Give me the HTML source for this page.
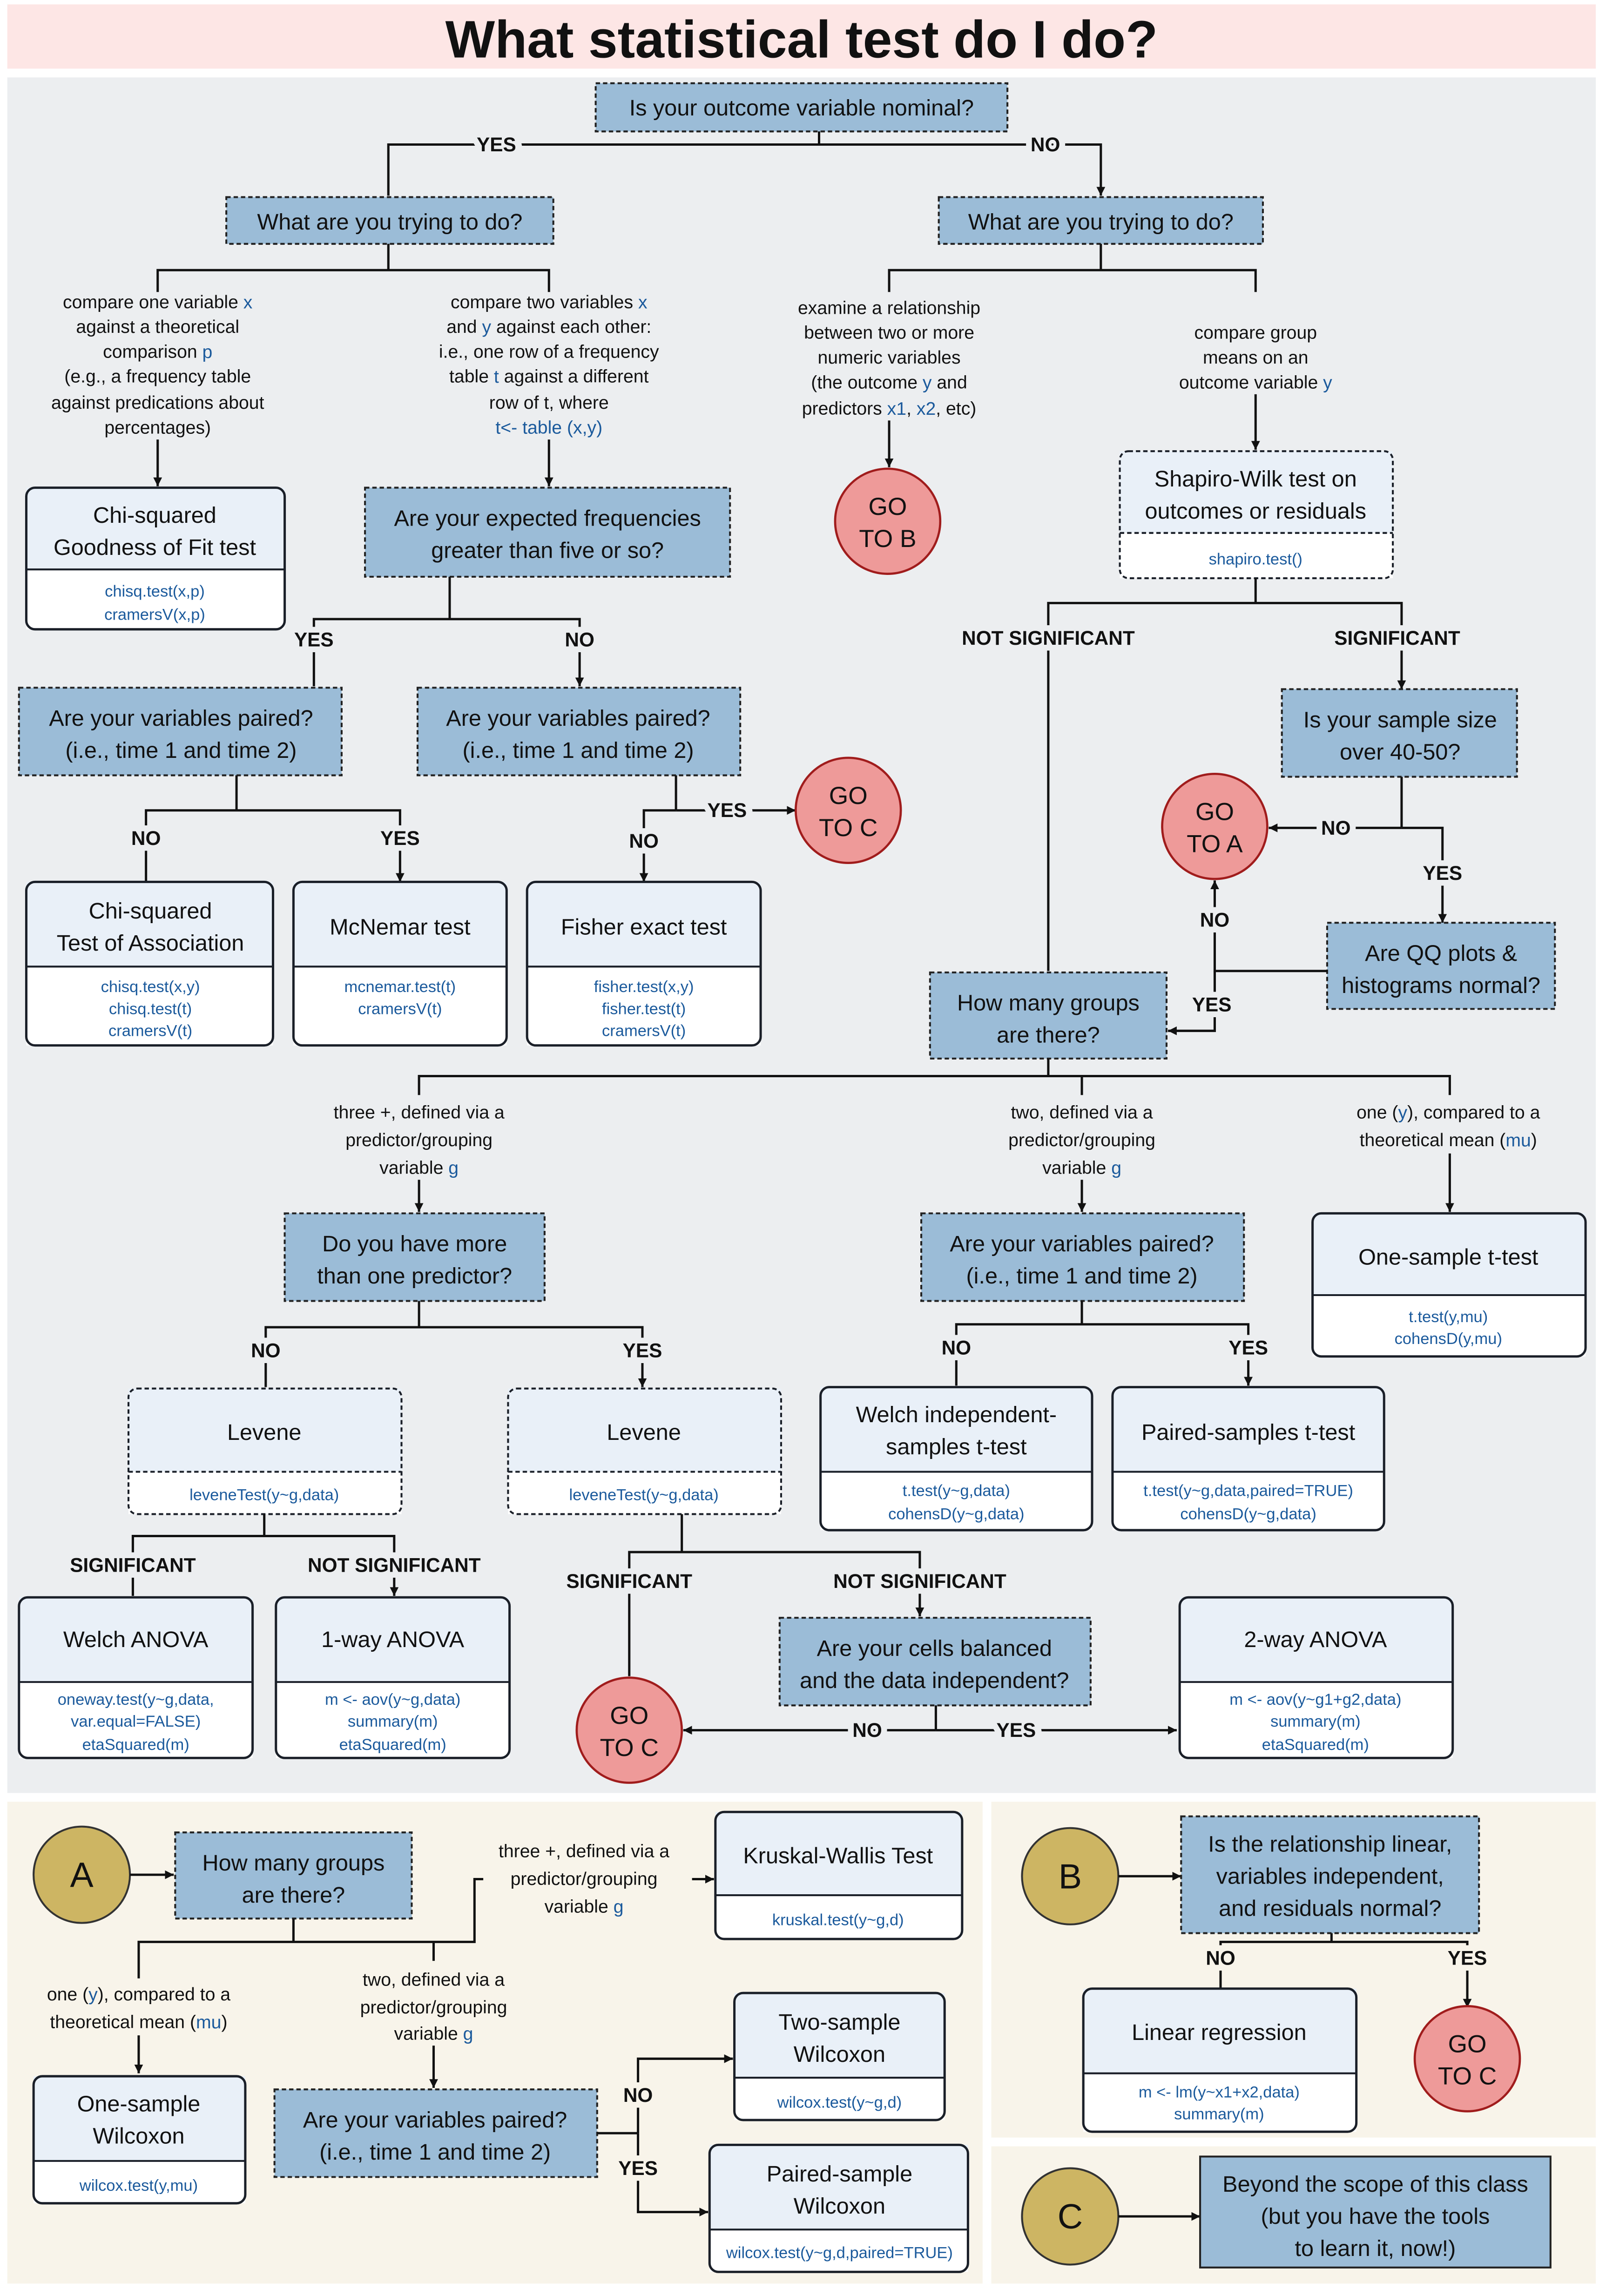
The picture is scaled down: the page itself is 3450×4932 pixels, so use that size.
<!DOCTYPE html>
<html><head><meta charset="utf-8"><style>
html,body{margin:0;padding:0;background:#fff}
svg{display:block}
text{font-family:"Liberation Sans",sans-serif;fill:#111}
.q{font-size:15.5px;text-anchor:middle;dominant-baseline:central}
.s{font-size:12.5px;text-anchor:middle;dominant-baseline:central}
.c{font-size:11px;text-anchor:middle;dominant-baseline:central;fill:#1b5a9c}
.b{fill:#1b5a9c}
.l{font-size:13.5px;font-weight:bold;text-anchor:middle;dominant-baseline:central;stroke:#eceef0;stroke-width:8;paint-order:stroke}
.l2{font-size:13.5px;font-weight:bold;text-anchor:middle;dominant-baseline:central;stroke:#f8f4ea;stroke-width:8;paint-order:stroke}
.ci{font-size:17px;text-anchor:middle;dominant-baseline:central}
.d{fill:#9bbcd7;stroke:#222;stroke-width:1.3;stroke-dasharray:3 2}
.rt{fill:#e9f0f8;stroke:none}
.ro{fill:none;stroke:#1a1f28;stroke-width:1.6}
.rod{fill:none;stroke:#1a1f28;stroke-width:1.3;stroke-dasharray:3 2}
.w{stroke:#1a1f28;stroke-width:1.3}
.ln{fill:none;stroke:#111;stroke-width:1.6}
.a{fill:none;stroke:#111;stroke-width:1.6;marker-end:url(#ar)}
.p{fill:#ee9a99;stroke:#a01c1c;stroke-width:1.5}
.g{fill:#cdb563;stroke:#333;stroke-width:1.3}
</style></head><body>
<svg width="3450" height="4932" viewBox="0 0 1100 1572.5" xmlns="http://www.w3.org/2000/svg">
<defs><marker id="ar" viewBox="0 0 10 10" refX="10" refY="5" markerWidth="6" markerHeight="6" markerUnits="userSpaceOnUse" orient="auto"><path d="M0,0L10,5L0,10z" fill="#111"/></marker></defs>
<rect x="0" y="0" width="1100" height="1572.5" fill="#fff"/>
<rect x="5" y="3" width="1088" height="44" fill="#fde6e5"/>
<text x="549" y="27" style="font-size:36px;font-weight:bold;text-anchor:middle;dominant-baseline:central">What statistical test do I do?</text>
<rect x="5" y="53" width="1088" height="1175" fill="#eceef0"/>
<rect x="5" y="1234" width="668" height="330" fill="#f8f4ea"/>
<rect x="679" y="1234" width="414" height="230" fill="#f8f4ea"/>
<rect x="679" y="1470" width="414" height="94" fill="#f8f4ea"/>

<rect class="d" x="408" y="57" width="282" height="33"/>
<text class="q" x="549" y="74">Is your outcome variable nominal?</text>
<path class="ln" d="M561,90V99"/>
<path class="a" d="M266,134V99H754V134"/>
<text class="l" x="340" y="99">YES</text><text class="l" x="716" y="99">NO</text>

<rect class="d" x="155" y="135" width="224" height="32"/><text class="q" x="267" y="152">What are you trying to do?</text>
<rect class="d" x="643" y="135" width="222" height="32"/><text class="q" x="754" y="152">What are you trying to do?</text>
<path class="ln" d="M266,167V185M108,200V185H376V200M754,167V185M609,200V185H860V200"/>
<text class="s" x="108" y="207">compare one variable <tspan class="b">x</tspan></text>
<text class="s" x="108" y="224">against a theoretical</text>
<text class="s" x="108" y="241">comparison <tspan class="b">p</tspan></text>
<text class="s" x="108" y="258">(e.g., a frequency table</text>
<text class="s" x="108" y="276">against predications about</text>
<text class="s" x="108" y="293">percentages)</text>
<path class="a" d="M108,301V333"/>
<text class="s" x="376" y="207">compare two variables <tspan class="b">x</tspan></text>
<text class="s" x="376" y="224">and <tspan class="b">y</tspan> against each other:</text>
<text class="s" x="376" y="241">i.e., one row of a frequency</text>
<text class="s" x="376" y="258">table <tspan class="b">t</tspan> against a different</text>
<text class="s" x="376" y="276">row of t, where</text>
<text class="s b" x="376" y="293">t&lt;- table (x,y)</text>
<path class="a" d="M376,301V333"/>
<text class="s" x="609" y="211">examine a relationship</text>
<text class="s" x="609" y="228">between two or more</text>
<text class="s" x="609" y="245">numeric variables</text>
<text class="s" x="609" y="262">(the outcome <tspan class="b">y</tspan> and</text>
<text class="s" x="609" y="280">predictors <tspan class="b">x1</tspan>, <tspan class="b">x2</tspan>, etc)</text>
<path class="a" d="M609,288V320"/>
<circle class="p" cx="608" cy="357" r="36"/><text class="ci" x="608" y="347">GO</text><text class="ci" x="608" y="369">TO B</text>
<text class="s" x="860" y="228">compare group</text>
<text class="s" x="860" y="245">means on an</text>
<text class="s" x="860" y="262">outcome variable <tspan class="b">y</tspan></text>
<path class="a" d="M860,270V308"/>

<rect class="rt" x="18" y="334" width="177" height="56"/><rect x="18" y="390" width="177" height="41" fill="#fff"/>
<rect class="ro" x="18" y="334" width="177" height="97" rx="6"/><path class="w" d="M18,390H195"/>
<text class="q" x="106" y="353">Chi-squared</text><text class="q" x="106" y="375">Goodness of Fit test</text>
<text class="c" x="106" y="405">chisq.test(x,p)</text><text class="c" x="106" y="421">cramersV(x,p)</text>

<rect class="d" x="250" y="334" width="250" height="61"/>
<text class="q" x="375" y="355">Are your expected frequencies</text><text class="q" x="375" y="377">greater than five or so?</text>
<path class="ln" d="M308,395V424"/><path class="a" d="M215,470V424H397V470"/>
<text class="l" x="215" y="438">YES</text><text class="l" x="397" y="438">NO</text>

<rect class="rt" x="767" y="309" width="187" height="56"/><rect x="767" y="365" width="187" height="31" fill="#fff"/>
<rect class="rod" x="767" y="309" width="187" height="87" rx="6"/><path class="w" d="M767,365H954" stroke-dasharray="3 2"/>
<text class="q" x="860" y="328">Shapiro-Wilk test on</text><text class="q" x="860" y="350">outcomes or residuals</text>
<text class="c" x="860" y="383">shapiro.test()</text>
<path class="ln" d="M860,396V413"/><path class="a" d="M718,665V413H960V472"/>
<text class="l" x="718" y="437">NOT SIGNIFICANT</text><text class="l" x="957" y="437">SIGNIFICANT</text>

<rect class="d" x="878" y="472" width="161" height="60"/>
<text class="q" x="959" y="493">Is your sample size</text><text class="q" x="959" y="515">over 40-50?</text>
<path class="ln" d="M960,532V567"/><path class="a" d="M960,567H869"/><path class="a" d="M960,567H988V632"/>
<text class="l" x="915" y="567">NO</text><text class="l" x="988" y="598">YES</text>
<circle class="p" cx="832" cy="566" r="36"/><text class="ci" x="832" y="556">GO</text><text class="ci" x="832" y="578">TO A</text>
<rect class="d" x="909" y="632" width="156" height="59"/>
<text class="q" x="987" y="653">Are QQ plots &amp;</text><text class="q" x="987" y="675">histograms normal?</text>
<path class="a" d="M909,665H832V603"/><path class="a" d="M832,665V706H800"/>
<text class="l" x="832" y="630">NO</text><text class="l" x="830" y="688">YES</text>

<rect class="d" x="637" y="666" width="162" height="59"/>
<text class="q" x="718" y="687">How many groups</text><text class="q" x="718" y="709">are there?</text>

<rect class="d" x="13" y="471" width="221" height="60"/>
<text class="q" x="124" y="492">Are your variables paired?</text><text class="q" x="124" y="514">(i.e., time 1 and time 2)</text>
<path class="ln" d="M162,531V555"/><path class="a" d="M100,604V555H274V604"/>
<text class="l" x="100" y="574">NO</text><text class="l" x="274" y="574">YES</text>
<rect class="d" x="286" y="471" width="221" height="60"/>
<text class="q" x="396" y="492">Are your variables paired?</text><text class="q" x="396" y="514">(i.e., time 1 and time 2)</text>
<path class="ln" d="M463,531V555"/><path class="a" d="M463,555H545"/><path class="a" d="M463,555H441V604"/>
<text class="l" x="498" y="555">YES</text><text class="l" x="441" y="576">NO</text>
<circle class="p" cx="581" cy="555" r="36"/><text class="ci" x="581" y="545">GO</text><text class="ci" x="581" y="567">TO C</text>

<rect class="rt" x="18" y="604" width="169" height="58"/><rect x="18" y="662" width="169" height="54" fill="#fff"/>
<rect class="ro" x="18" y="604" width="169" height="112" rx="6"/><path class="w" d="M18,662H187"/>
<text class="q" x="103" y="624">Chi-squared</text><text class="q" x="103" y="646">Test of Association</text>
<text class="c" x="103" y="676">chisq.test(x,y)</text><text class="c" x="103" y="691">chisq.test(t)</text><text class="c" x="103" y="706">cramersV(t)</text>

<rect class="rt" x="201" y="604" width="146" height="58"/><rect x="201" y="662" width="146" height="54" fill="#fff"/>
<rect class="ro" x="201" y="604" width="146" height="112" rx="6"/><path class="w" d="M201,662H347"/>
<text class="q" x="274" y="635">McNemar test</text>
<text class="c" x="274" y="676">mcnemar.test(t)</text><text class="c" x="274" y="691">cramersV(t)</text>

<rect class="rt" x="361" y="604" width="160" height="58"/><rect x="361" y="662" width="160" height="54" fill="#fff"/>
<rect class="ro" x="361" y="604" width="160" height="112" rx="6"/><path class="w" d="M361,662H521"/>
<text class="q" x="441" y="635">Fisher exact test</text>
<text class="c" x="441" y="676">fisher.test(x,y)</text><text class="c" x="441" y="691">fisher.test(t)</text><text class="c" x="441" y="706">cramersV(t)</text>

<path class="ln" d="M718,725V737M287,750V737H993V750M741,737V750"/>
<text class="s" x="287" y="762">three +, defined via a</text><text class="s" x="287" y="781">predictor/grouping</text><text class="s" x="287" y="800">variable <tspan class="b">g</tspan></text>
<path class="a" d="M287,808V830"/>
<text class="s" x="741" y="762">two, defined via a</text><text class="s" x="741" y="781">predictor/grouping</text><text class="s" x="741" y="800">variable <tspan class="b">g</tspan></text>
<path class="a" d="M741,808V830"/>
<text class="s" x="992" y="762">one (<tspan class="b">y</tspan>), compared to a</text><text class="s" x="992" y="781">theoretical mean (<tspan class="b">mu</tspan>)</text>
<path class="a" d="M993,790V830"/>

<rect class="d" x="195" y="831" width="178" height="60"/>
<text class="q" x="284" y="852">Do you have more</text><text class="q" x="284" y="874">than one predictor?</text>
<path class="ln" d="M287,891V909"/><path class="a" d="M182,950V909H440V950"/>
<text class="l" x="182" y="925">NO</text><text class="l" x="440" y="925">YES</text>

<rect class="d" x="631" y="831" width="221" height="60"/>
<text class="q" x="741" y="852">Are your variables paired?</text><text class="q" x="741" y="874">(i.e., time 1 and time 2)</text>
<path class="ln" d="M741,891V907"/><path class="a" d="M655,949V907H855V949"/>
<text class="l" x="655" y="923">NO</text><text class="l" x="855" y="923">YES</text>

<rect class="rt" x="899" y="831" width="187" height="56"/><rect x="899" y="887" width="187" height="42" fill="#fff"/>
<rect class="ro" x="899" y="831" width="187" height="98" rx="6"/><path class="w" d="M899,887H1086"/>
<text class="q" x="992" y="861">One-sample t-test</text>
<text class="c" x="992" y="902">t.test(y,mu)</text><text class="c" x="992" y="917">cohensD(y,mu)</text>

<rect class="rt" x="88" y="951" width="187" height="57"/><rect x="88" y="1008" width="187" height="29" fill="#fff"/>
<rect class="rod" x="88" y="951" width="187" height="86" rx="6"/><path class="w" d="M88,1008H275" stroke-dasharray="3 2"/>
<text class="q" x="181" y="981">Levene</text><text class="c" x="181" y="1024">leveneTest(y~g,data)</text>
<rect class="rt" x="348" y="951" width="187" height="57"/><rect x="348" y="1008" width="187" height="29" fill="#fff"/>
<rect class="rod" x="348" y="951" width="187" height="86" rx="6"/><path class="w" d="M348,1008H535" stroke-dasharray="3 2"/>
<text class="q" x="441" y="981">Levene</text><text class="c" x="441" y="1024">leveneTest(y~g,data)</text>

<rect class="rt" x="562" y="950" width="186" height="58"/><rect x="562" y="1008" width="186" height="40" fill="#fff"/>
<rect class="ro" x="562" y="950" width="186" height="98" rx="6"/><path class="w" d="M562,1008H748"/>
<text class="q" x="655" y="969">Welch independent-</text><text class="q" x="655" y="991">samples t-test</text>
<text class="c" x="655" y="1021">t.test(y~g,data)</text><text class="c" x="655" y="1037">cohensD(y~g,data)</text>
<rect class="rt" x="762" y="950" width="186" height="58"/><rect x="762" y="1008" width="186" height="40" fill="#fff"/>
<rect class="ro" x="762" y="950" width="186" height="98" rx="6"/><path class="w" d="M762,1008H948"/>
<text class="q" x="855" y="981">Paired-samples t-test</text>
<text class="c" x="855" y="1021">t.test(y~g,data,paired=TRUE)</text><text class="c" x="855" y="1037">cohensD(y~g,data)</text>

<path class="ln" d="M181,1037V1052"/><path class="a" d="M91,1093V1052H270V1093"/>
<text class="l" x="91" y="1072">SIGNIFICANT</text><text class="l" x="270" y="1072">NOT SIGNIFICANT</text>

<rect class="rt" x="13" y="1094" width="160" height="58"/><rect x="13" y="1152" width="160" height="52" fill="#fff"/>
<rect class="ro" x="13" y="1094" width="160" height="110" rx="6"/><path class="w" d="M13,1152H173"/>
<text class="q" x="93" y="1123">Welch ANOVA</text>
<text class="c" x="93" y="1164">oneway.test(y~g,data,</text><text class="c" x="93" y="1179">var.equal=FALSE)</text><text class="c" x="93" y="1195">etaSquared(m)</text>
<rect class="rt" x="189" y="1094" width="160" height="58"/><rect x="189" y="1152" width="160" height="52" fill="#fff"/>
<rect class="ro" x="189" y="1094" width="160" height="110" rx="6"/><path class="w" d="M189,1152H349"/>
<text class="q" x="269" y="1123">1-way ANOVA</text>
<text class="c" x="269" y="1164">m &lt;- aov(y~g,data)</text><text class="c" x="269" y="1179">summary(m)</text><text class="c" x="269" y="1195">etaSquared(m)</text>

<path class="ln" d="M467,1037V1063"/><path class="a" d="M431,1148V1063H630V1107"/>
<text class="l" x="431" y="1083">SIGNIFICANT</text><text class="l" x="630" y="1083">NOT SIGNIFICANT</text>
<circle class="p" cx="431" cy="1185" r="36"/><text class="ci" x="431" y="1175">GO</text><text class="ci" x="431" y="1197">TO C</text>
<rect class="d" x="534" y="1108" width="213" height="60"/>
<text class="q" x="640" y="1129">Are your cells balanced</text><text class="q" x="640" y="1151">and the data independent?</text>
<path class="ln" d="M641,1168V1185"/><path class="a" d="M641,1185H468"/><path class="a" d="M641,1185H806"/>
<text class="l" x="594" y="1185">NO</text><text class="l" x="696" y="1185">YES</text>
<rect class="rt" x="808" y="1094" width="187" height="58"/><rect x="808" y="1152" width="187" height="52" fill="#fff"/>
<rect class="ro" x="808" y="1094" width="187" height="110" rx="6"/><path class="w" d="M808,1152H995"/>
<text class="q" x="901" y="1123">2-way ANOVA</text>
<text class="c" x="901" y="1164">m &lt;- aov(y~g1+g2,data)</text><text class="c" x="901" y="1179">summary(m)</text><text class="c" x="901" y="1195">etaSquared(m)</text>

<circle class="g" cx="56" cy="1284" r="33"/><text x="56" y="1284" style="font-size:24px;text-anchor:middle;dominant-baseline:central">A</text>
<path class="a" d="M89,1284H119"/>
<rect class="d" x="120" y="1255" width="162" height="59"/>
<text class="q" x="201" y="1276">How many groups</text><text class="q" x="201" y="1298">are there?</text>
<path class="ln" d="M201,1314V1330M331,1287H325V1330H95V1355M297,1330V1343"/>
<text class="s" x="400" y="1268">three +, defined via a</text><text class="s" x="400" y="1287">predictor/grouping</text><text class="s" x="400" y="1306">variable <tspan class="b">g</tspan></text>
<path class="a" d="M474,1287H489"/>
<text class="s" x="95" y="1366">one (<tspan class="b">y</tspan>), compared to a</text><text class="s" x="95" y="1385">theoretical mean (<tspan class="b">mu</tspan>)</text>
<path class="a" d="M95,1394V1420"/>
<text class="s" x="297" y="1356">two, defined via a</text><text class="s" x="297" y="1375">predictor/grouping</text><text class="s" x="297" y="1393">variable <tspan class="b">g</tspan></text>
<path class="a" d="M297,1401V1430"/>

<rect class="rt" x="490" y="1241" width="169" height="57"/><rect x="490" y="1298" width="169" height="30" fill="#fff"/>
<rect class="ro" x="490" y="1241" width="169" height="87" rx="6"/><path class="w" d="M490,1298H659"/>
<text class="q" x="574" y="1271">Kruskal-Wallis Test</text><text class="c" x="574" y="1315">kruskal.test(y~g,d)</text>

<rect class="rt" x="23" y="1422" width="145" height="58"/><rect x="23" y="1480" width="145" height="29" fill="#fff"/>
<rect class="ro" x="23" y="1422" width="145" height="87" rx="6"/><path class="w" d="M23,1480H168"/>
<text class="q" x="95" y="1441">One-sample</text><text class="q" x="95" y="1463">Wilcoxon</text><text class="c" x="95" y="1497">wilcox.test(y,mu)</text>

<rect class="d" x="188" y="1431" width="221" height="60"/>
<text class="q" x="298" y="1452">Are your variables paired?</text><text class="q" x="298" y="1474">(i.e., time 1 and time 2)</text>
<path class="ln" d="M409,1461H437"/><path class="a" d="M437,1461V1410H502"/><path class="a" d="M437,1461V1515H485"/>
<text class="l2" x="437" y="1435">NO</text><text class="l2" x="437" y="1485">YES</text>

<rect class="rt" x="503" y="1365" width="144" height="58"/><rect x="503" y="1423" width="144" height="29" fill="#fff"/>
<rect class="ro" x="503" y="1365" width="144" height="87" rx="6"/><path class="w" d="M503,1423H647"/>
<text class="q" x="575" y="1385">Two-sample</text><text class="q" x="575" y="1407">Wilcoxon</text><text class="c" x="575" y="1440">wilcox.test(y~g,d)</text>

<rect class="rt" x="486" y="1469" width="177" height="58"/><rect x="486" y="1527" width="177" height="29" fill="#fff"/>
<rect class="ro" x="486" y="1469" width="177" height="87" rx="6"/><path class="w" d="M486,1527H663"/>
<text class="q" x="575" y="1489">Paired-sample</text><text class="q" x="575" y="1511">Wilcoxon</text><text class="c" x="575" y="1543">wilcox.test(y~g,d,paired=TRUE)</text>

<circle class="g" cx="733" cy="1285" r="33"/><text x="733" y="1285" style="font-size:24px;text-anchor:middle;dominant-baseline:central">B</text>
<path class="a" d="M766,1285H809"/>
<rect class="d" x="809" y="1244" width="204" height="80"/>
<text class="q" x="911" y="1263">Is the relationship linear,</text><text class="q" x="911" y="1285">variables independent,</text><text class="q" x="911" y="1307">and residuals normal?</text>
<path class="ln" d="M912,1324V1330"/><path class="a" d="M836,1362V1330H1005V1375"/>
<text class="l2" x="836" y="1341">NO</text><text class="l2" x="1005" y="1341">YES</text>
<rect class="rt" x="742" y="1362" width="187" height="58"/><rect x="742" y="1420" width="187" height="40" fill="#fff"/>
<rect class="ro" x="742" y="1362" width="187" height="98" rx="6"/><path class="w" d="M742,1420H929"/>
<text class="q" x="835" y="1392">Linear regression</text>
<text class="c" x="835" y="1433">m &lt;- lm(y~x1+x2,data)</text><text class="c" x="835" y="1448">summary(m)</text>
<circle class="p" cx="1005" cy="1410" r="36"/><text class="ci" x="1005" y="1400">GO</text><text class="ci" x="1005" y="1422">TO C</text>

<circle class="g" cx="733" cy="1518" r="33"/><text x="733" y="1518" style="font-size:24px;text-anchor:middle;dominant-baseline:central">C</text>
<path class="a" d="M766,1518H822"/>
<rect x="822" y="1477" width="240" height="76" fill="#9bbcd7" stroke="#222" stroke-width="1.3"/>
<text class="q" x="942" y="1496">Beyond the scope of this class</text><text class="q" x="942" y="1518">(but you have the tools</text><text class="q" x="942" y="1540">to learn it, now!)</text>
</svg>
</body></html>
